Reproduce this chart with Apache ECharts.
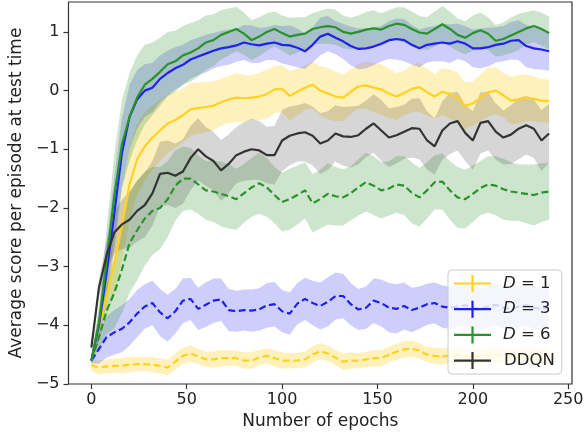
<!DOCTYPE html>
<html><head><meta charset="utf-8">
<script src="https://cdn.jsdelivr.net/npm/echarts@6/dist/echarts.min.js"></script>
<style>html,body{margin:0;padding:0;background:#fff}#c{width:587px;height:435px}</style>
</head><body><div id="c"></div>
<script>
const epochs = [0,4,8,12,16,20,24,28,32,36,40,44,48,52,56,60,64,68,72,76,80,84,88,92,96,100,104,108,112,116,120,124,128,132,136,140,144,148,152,156,160,164,168,172,176,180,184,188,192,196,200,204,208,212,216,220,224,228,232,236,240];

const d1Mean = [-4.6,-4.05,-3.5,-2.95,-2.3,-1.6,-1.17,-0.95,-0.8,-0.68,
-0.56,-0.5,-0.42,-0.32,-0.3,-0.28,-0.26,-0.2,-0.15,-0.12,
-0.13,-0.12,-0.1,-0.06,0.02,0.03,-0.09,-0.02,0.05,0.1,
0.0,-0.05,-0.1,-0.12,-0.02,0.07,0.09,0.05,0.02,-0.05,
-0.1,-0.04,0.03,0.06,-0.03,-0.1,-0.02,-0.06,-0.12,-0.26,
-0.22,-0.12,-0.03,0.0,-0.08,-0.17,-0.15,-0.12,-0.14,-0.17,
-0.18];
const d1Spread = [0.05,0.2,0.35,0.5,0.6,0.62,0.6,0.58,0.55,0.52,
0.5,0.48,0.46,0.45,0.44,0.43,0.42,0.4,0.4,0.42,
0.4,0.38,0.4,0.42,0.4,0.4,0.42,0.4,0.38,0.4,
0.42,0.44,0.42,0.4,0.38,0.38,0.4,0.42,0.43,0.42,
0.4,0.38,0.4,0.42,0.4,0.38,0.4,0.42,0.43,0.4,
0.38,0.4,0.42,0.4,0.38,0.4,0.42,0.4,0.38,0.37,
0.36];
const d1DashMean = [-4.68,-4.72,-4.7,-4.69,-4.69,-4.67,-4.66,-4.66,-4.67,-4.69,
-4.72,-4.62,-4.52,-4.48,-4.53,-4.58,-4.58,-4.56,-4.56,-4.56,
-4.6,-4.6,-4.55,-4.52,-4.56,-4.6,-4.6,-4.6,-4.58,-4.5,
-4.44,-4.48,-4.55,-4.62,-4.6,-4.6,-4.58,-4.56,-4.56,-4.5,
-4.45,-4.41,-4.4,-4.43,-4.5,-4.52,-4.53,-4.52,-4.5,-4.52,
-4.54,-4.52,-4.5,-4.5,-4.52,-4.53,-4.52,-4.5,-4.52,-4.53,
-4.52];
const d1DashSpread = [0.1,0.12,0.12,0.12,0.13,0.13,0.12,0.12,0.13,0.13,
0.13,0.14,0.14,0.14,0.13,0.13,0.14,0.14,0.13,0.13,
0.14,0.14,0.13,0.13,0.14,0.14,0.13,0.13,0.14,0.14,
0.14,0.13,0.13,0.14,0.14,0.13,0.13,0.14,0.14,0.13,
0.14,0.14,0.14,0.13,0.13,0.14,0.14,0.13,0.13,0.14,
0.14,0.13,0.13,0.14,0.14,0.13,0.13,0.14,0.14,0.13,
0.13];

const d3Mean = [-4.6,-4.0,-3.1,-2.1,-1.07,-0.45,-0.15,0.0,0.05,0.2,
0.3,0.38,0.44,0.53,0.58,0.63,0.68,0.72,0.74,0.77,
0.82,0.79,0.77,0.8,0.82,0.78,0.77,0.73,0.67,0.78,
0.92,0.97,0.9,0.84,0.76,0.71,0.72,0.75,0.8,0.86,
0.88,0.86,0.78,0.72,0.78,0.8,0.82,0.8,0.84,0.8,
0.72,0.72,0.74,0.78,0.8,0.85,0.86,0.76,0.72,0.7,
0.67];
const d3Spread = [0.05,0.25,0.5,0.62,0.6,0.55,0.5,0.45,0.42,0.4,
0.38,0.36,0.34,0.33,0.32,0.32,0.3,0.3,0.3,0.28,
0.3,0.32,0.3,0.28,0.3,0.32,0.34,0.33,0.3,0.3,
0.32,0.3,0.28,0.3,0.33,0.35,0.34,0.32,0.3,0.32,
0.35,0.36,0.34,0.32,0.3,0.3,0.32,0.33,0.3,0.3,
0.32,0.34,0.33,0.3,0.3,0.32,0.34,0.36,0.35,0.34,
0.33];
const d3DashMean = [-4.6,-4.4,-4.2,-4.12,-4.06,-3.95,-3.8,-3.68,-3.62,-3.78,
-3.88,-3.76,-3.58,-3.55,-3.72,-3.65,-3.58,-3.56,-3.74,-3.76,
-3.74,-3.75,-3.73,-3.66,-3.64,-3.76,-3.8,-3.63,-3.55,-3.62,
-3.67,-3.6,-3.5,-3.5,-3.64,-3.73,-3.7,-3.58,-3.62,-3.7,
-3.72,-3.67,-3.74,-3.7,-3.64,-3.62,-3.68,-3.7,-3.68,-3.66,
-3.7,-3.72,-3.68,-3.65,-3.7,-3.72,-3.68,-3.66,-3.7,-3.72,
-3.7];
const d3DashSpread = [0.05,0.25,0.35,0.38,0.4,0.4,0.4,0.38,0.38,0.4,
0.4,0.38,0.38,0.36,0.36,0.38,0.38,0.36,0.36,0.35,
0.35,0.36,0.36,0.38,0.38,0.36,0.36,0.35,0.36,0.38,
0.4,0.42,0.4,0.38,0.36,0.35,0.36,0.38,0.4,0.42,
0.42,0.4,0.38,0.36,0.35,0.35,0.36,0.36,0.35,0.35,
0.36,0.36,0.35,0.35,0.36,0.36,0.35,0.35,0.36,0.36,
0.35];

const d6Mean = [-4.6,-3.95,-2.9,-1.8,-0.92,-0.45,-0.12,0.1,0.2,0.32,
0.45,0.5,0.6,0.65,0.72,0.82,0.86,0.95,1.0,1.05,
0.97,0.86,0.92,1.0,1.05,0.98,0.92,0.95,0.97,1.05,
1.08,1.1,1.08,1.0,0.97,1.0,1.04,1.06,1.04,1.1,
1.14,1.12,1.05,0.99,0.97,1.05,1.13,1.05,0.95,0.9,
0.98,1.03,0.97,0.85,0.88,0.94,1.0,1.06,1.1,1.05,
0.98];
const d6Spread = [0.05,0.3,0.55,0.7,0.75,0.75,0.72,0.68,0.62,0.58,
0.55,0.52,0.5,0.5,0.48,0.46,0.44,0.42,0.4,0.38,
0.36,0.34,0.33,0.32,0.3,0.3,0.32,0.3,0.28,0.27,
0.28,0.3,0.3,0.28,0.27,0.28,0.3,0.31,0.28,0.27,
0.28,0.3,0.3,0.28,0.28,0.3,0.31,0.3,0.28,0.28,
0.3,0.3,0.28,0.27,0.28,0.3,0.31,0.28,0.27,0.28,
0.28];
const d6DashMean = [-4.6,-4.2,-3.75,-3.45,-3.05,-2.6,-2.38,-2.18,-2.05,-2.0,
-1.85,-1.62,-1.5,-1.5,-1.6,-1.7,-1.72,-1.76,-1.8,-1.85,
-1.75,-1.65,-1.58,-1.65,-1.78,-1.9,-1.85,-1.78,-1.7,-1.92,
-1.85,-1.76,-1.8,-1.82,-1.75,-1.65,-1.56,-1.62,-1.7,-1.67,
-1.6,-1.62,-1.74,-1.82,-1.7,-1.56,-1.55,-1.7,-1.82,-1.85,
-1.76,-1.66,-1.6,-1.62,-1.68,-1.72,-1.74,-1.76,-1.78,-1.74,
-1.72];
const d6DashSpread = [0.05,0.2,0.4,0.6,0.75,0.85,0.85,0.8,0.75,0.7,
0.65,0.6,0.55,0.52,0.5,0.5,0.52,0.55,0.55,0.52,
0.5,0.5,0.52,0.5,0.48,0.5,0.52,0.5,0.48,0.5,
0.5,0.52,0.5,0.48,0.46,0.48,0.5,0.5,0.48,0.46,
0.48,0.5,0.52,0.5,0.48,0.46,0.48,0.5,0.52,0.5,
0.48,0.46,0.48,0.5,0.52,0.5,0.48,0.5,0.52,0.5,
0.48];

const ddqnMean = [-4.38,-3.35,-2.8,-2.42,-2.28,-2.2,-2.05,-1.95,-1.75,-1.42,
-1.4,-1.45,-1.38,-1.15,-1.0,-1.12,-1.2,-1.36,-1.25,-1.1,
-1.04,-1.0,-1.02,-1.1,-1.1,-0.85,-0.77,-0.73,-0.71,-0.77,
-0.9,-0.85,-0.73,-0.78,-0.79,-0.76,-0.65,-0.56,-0.68,-0.8,
-0.76,-0.7,-0.64,-0.65,-0.85,-0.95,-0.68,-0.56,-0.52,-0.72,
-0.85,-0.55,-0.52,-0.7,-0.8,-0.75,-0.65,-0.59,-0.65,-0.85,
-0.73];
const ddqnSpread = [0.05,0.15,0.25,0.35,0.42,0.48,0.52,0.55,0.55,0.55,
0.55,0.55,0.55,0.55,0.53,0.5,0.5,0.52,0.5,0.48,
0.5,0.52,0.5,0.48,0.5,0.52,0.5,0.48,0.5,0.5,
0.52,0.5,0.48,0.5,0.52,0.5,0.48,0.5,0.52,0.5,
0.48,0.46,0.5,0.52,0.5,0.48,0.5,0.52,0.5,0.48,
0.5,0.52,0.5,0.48,0.46,0.5,0.52,0.5,0.5,0.52,
0.5];

const xTicks = [0,50,100,150,200,250];
const yTicks = [-5,-4,-3,-2,-1,0,1];
const legendNames = ['D = 1','D = 3','D = 6','DDQN'];

const C1 = '#FFD21F', C3 = '#2020F0', C6 = '#2A922A', CQ = '#333333';
const FONT = 'DejaVu Sans';

function band(name, mean, spread, fill) {
  const lo = mean.map((m, i) => m - spread[i]);
  const hi = mean.map((m, i) => m + spread[i]);
  return {
    type: 'custom', name: name, silent: true, z: 1, clip: true,
    data: epochs.map((e, i) => [e, lo[i], hi[i]]),
    encode: { x: 0, y: [1, 2] },
    renderItem: function (params, api) {
      if (params.dataIndex !== 0) return null;
      const pts = [];
      for (let i = 0; i < epochs.length; i++) pts.push(api.coord([epochs[i], hi[i]]));
      for (let i = epochs.length - 1; i >= 0; i--) pts.push(api.coord([epochs[i], lo[i]]));
      return { type: 'polygon', shape: { points: pts }, style: { fill: fill } };
    }
  };
}
function line(name, mean, color, dashed) {
  return {
    type: 'line', name: name, z: 3, silent: true, symbol: 'none',
    data: epochs.map((e, i) => [e, mean[i]]),
    lineStyle: { color: color, width: 2.2, type: dashed ? [7, 3.5] : 'solid' },
    itemStyle: { color: color }
  };
}
const minus = v => (v < 0 ? '\u2212' + Math.abs(v) : String(v));

const chart = echarts.init(document.getElementById('c'));
chart.setOption({
  animation: false,
  grid: { left: 58, right: 15, top: 2, bottom: 51, show: true, borderColor: '#333', borderWidth: 1.2, backgroundColor: 'transparent' },
  xAxis: {
    type: 'value', min: -12, max: 252,
    splitLine: { show: false }, axisLine: { show: false, onZero: false },
    axisTick: { show: true, length: 5, customValues: xTicks, lineStyle: { color: '#333', width: 1.2 } },
    axisLabel: { customValues: xTicks, fontSize: 16, fontFamily: FONT, color: '#222', margin: 8 },
    name: 'Number of epochs', nameLocation: 'middle', nameGap: 29,
    nameTextStyle: { fontSize: 17, fontFamily: FONT, color: '#222' }
  },
  yAxis: {
    type: 'value', min: -5, max: 1.51,
    splitLine: { show: false }, axisLine: { show: false, onZero: false },
    axisTick: { show: true, length: 5, customValues: yTicks, lineStyle: { color: '#333', width: 1.2 } },
    axisLabel: { customValues: yTicks, fontSize: 16, fontFamily: FONT, color: '#222', margin: 9, formatter: minus },
    name: 'Average score per episode at test time', nameLocation: 'middle', nameGap: 42,
    nameTextStyle: { fontSize: 17, fontFamily: FONT, color: '#222' }
  },
  legend: {
    orient: 'vertical', left: 448, top: 270, data: legendNames, selectedMode: false,
    icon: 'path://M0,7.4h37v2.2h-37z M17.4,0h2.2v17h-2.2z',
    itemWidth: 37, itemHeight: 17, itemGap: 8.7, padding: [5, 7, 5, 6],
    backgroundColor: 'rgba(255,255,255,0.8)', borderColor: '#cccccc', borderWidth: 1, borderRadius: 4,
    formatter: function (n) {
      return n.indexOf('D =') === 0 ? '{i|D}{n| = ' + n.slice(4) + '}' : '{p|' + n + '}';
    },
    textStyle: {
      fontFamily: FONT, fontSize: 16.5, color: '#222',
      rich: {
        i: { fontFamily: FONT, fontSize: 16.5, fontStyle: 'italic', color: '#222', padding: [0, 0, 0, 7] },
        n: { fontFamily: FONT, fontSize: 16.5, color: '#222' },
        p: { fontFamily: FONT, fontSize: 16.5, color: '#222', padding: [0, 0, 0, 8] }
      }
    }
  },
  series: [
    band('b1', d1Mean, d1Spread, 'rgba(255,210,31,0.3)'),
    band('b1d', d1DashMean, d1DashSpread, 'rgba(255,210,31,0.3)'),
    band('b3', d3Mean, d3Spread, 'rgba(32,32,240,0.22)'),
    band('b3d', d3DashMean, d3DashSpread, 'rgba(32,32,240,0.22)'),
    band('b6', d6Mean, d6Spread, 'rgba(42,146,42,0.24)'),
    band('b6d', d6DashMean, d6DashSpread, 'rgba(42,146,42,0.24)'),
    band('bq', ddqnMean, ddqnSpread, 'rgba(51,51,51,0.2)'),
    line('D = 1', d1Mean, C1, false),
    line('D = 1 dashed', d1DashMean, C1, true),
    line('D = 3', d3Mean, C3, false),
    line('D = 3 dashed', d3DashMean, C3, true),
    line('D = 6', d6Mean, C6, false),
    line('D = 6 dashed', d6DashMean, C6, true),
    line('DDQN', ddqnMean, CQ, false)
  ]
});
</script></body></html>
